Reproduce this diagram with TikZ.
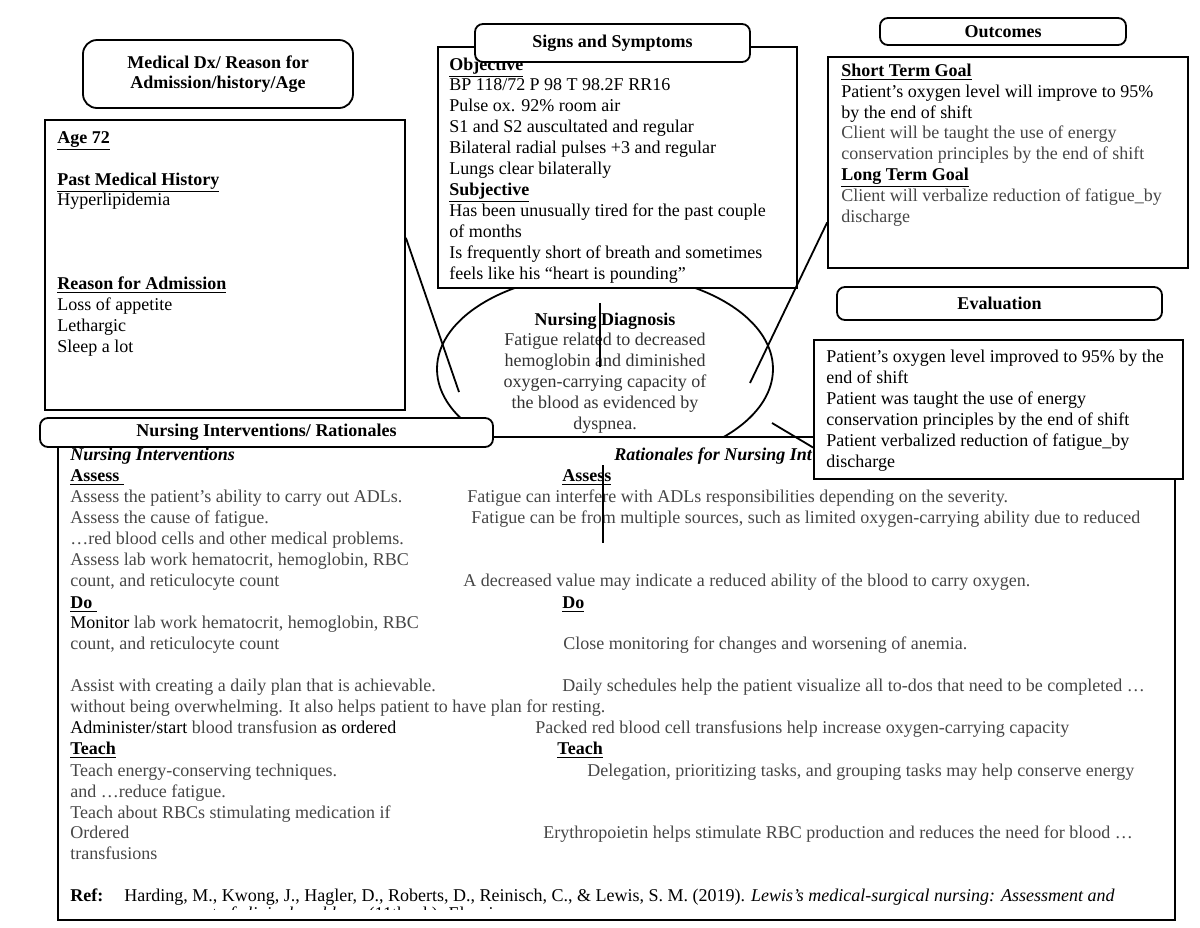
\documentclass[tikz,border=0pt]{standalone}
\usepackage{fontspec}
\setmainfont{Liberation Serif}
\usetikzlibrary{calc,shapes.geometric}
\begin{document}
\begin{tikzpicture}[x=0.5pt,y=-0.5pt,
  box/.style={draw,line width=0.9pt,fill=white,inner sep=0pt,rectangle},
  hdr/.style={draw,line width=0.9pt,fill=white,inner sep=0pt,rounded corners=4pt,font=\fontsize{9}{10}\selectfont\bfseries,align=center},
  tx/.style={anchor=base west,inner sep=0pt,font=\fontsize{9}{10.5}\selectfont},
  txb/.style={tx,font=\fontsize{9}{10.5}\selectfont\bfseries},
  txg/.style={tx,text=black!72},
  tc/.style={anchor=base,inner sep=0pt,font=\fontsize{9}{10.5}\selectfont,text=black!80},
  tcb/.style={tc,text=black,font=\fontsize{9}{10.5}\selectfont\bfseries},
  link/.style={line width=0.9pt}]
\fill[white] (0,0) rectangle (1200,927);
\useasboundingbox (0,0) rectangle (1200,927);

% Nursing diagnosis ellipse
\node[ellipse,draw,line width=0.9pt,fill=white,inner sep=0pt,minimum width=168pt,minimum height=96pt] (dx) at (605,369) {};
\node[tcb] (dx0) at (605,325) {Nursing Diagnosis};
\node[tc] (dx1) at (605,345) {Fatigue related to decreased};
\node[tc] (dx2) at (605,366) {hemoglobin and diminished};
\node[tc] (dx3) at (605,387) {oxygen-carrying capacity of};
\node[tc] (dx4) at (605,408) {the blood as evidenced by};
\node[tc] (dx5) at (605,429) {dyspnea.};

% Interventions box
\node[box,minimum width=558.5pt,minimum height=241.5pt] (int) at (616.5,678.5) {};
\node[txb] (a1) at (70,460) {\textit{Nursing Interventions}};
\node[txb] (a2) at (70,481) {\underline{Assess\ }};
\node[txg] (a3) at (70,502) {Assess the patient’s ability to carry out ADLs.};
\node[txg] (a4) at (70,523) {Assess the cause of fatigue.};
\node[txg] (a5) at (70,544) {…red blood cells and other medical problems.};
\node[txg] (a6) at (70,565) {Assess lab work hematocrit, hemoglobin, RBC};
\node[txg] (a7) at (70,586) {count, and reticulocyte count};
\node[txb] (a8) at (70,608) {\underline{Do\ }};
\node[txg] (a9) at (70,628) {\textcolor{black}{Monitor} lab work hematocrit, hemoglobin, RBC};
\node[txg] (a10) at (70,649) {count, and reticulocyte count};
\node[txg] (a11) at (70,691) {Assist with creating a daily plan that is achievable.};
\node[txg] (a12) at (70,712) {without being overwhelming. It also helps patient to have plan for resting.};
\node[txg] (a13) at (70,733) {\textcolor{black}{Administer/start} blood transfusion \textcolor{black}{as ordered}};
\node[txb] (a14) at (70,754) {\underline{Teach}};
\node[txg] (a15) at (70,776) {Teach energy-conserving techniques.};
\node[txg] (a16) at (70,797) {and …reduce fatigue.};
\node[txg] (a17) at (70,818) {Teach about RBCs stimulating medication if};
\node[txg] (a18) at (70,838) {Ordered};
\node[txg] (a19) at (70,859) {transfusions};

\begin{scope}
\clip (560,440) rectangle (812,470);
\node[txb] (b1) at (614,460) {\textit{Rationales for Nursing Int}};
\end{scope}
\node[txb] (b2) at (562,481) {\underline{Assess}};
\node[txg] (b3) at (467,502) {Fatigue can interfere with ADLs responsibilities depending on the severity.};
\node[txg] (b4) at (471,523) {Fatigue can be from multiple sources, such as limited oxygen-carrying ability due to reduced};
\node[txg] (b5) at (463,586) {A decreased value may indicate a reduced ability of the blood to carry oxygen.};
\node[txb] (b6) at (562,608) {\underline{Do}};
\node[txg] (b7) at (563,649) {Close monitoring for changes and worsening of anemia.};
\node[txg] (b8) at (562,691) {Daily schedules help the patient visualize all to-dos that need to be completed …};
\node[txg] (b9) at (535,733) {Packed red blood cell transfusions help increase oxygen-carrying capacity};
\node[txb] (b10) at (557,754) {\underline{Teach}};
\node[txg] (b11) at (587,776) {Delegation, prioritizing tasks, and grouping tasks may help conserve energy};
\node[txg] (b12) at (543,838) {Erythropoietin helps stimulate RBC production and reduces the need for blood …};

\node[txb] (ref0) at (70,901) {Ref:};
\node[tx] (ref1) at (124,901) {Harding, M., Kwong, J., Hagler, D., Roberts, D., Reinisch, C., \& Lewis, S. M. (2019). \textit{Lewis's medical-surgical nursing: Assessment and}};
\begin{scope}
\clip (58,905) rectangle (1175,909);
\node[tx] (ref2) at (124,919) {\textit{management of clinical problems} (11th ed.). Elsevier.};
\end{scope}

% Left box
\node[box,minimum width=180pt,minimum height=145pt] (leftbox) at (225,265) {};
\node[txb] (l1) at (57,143) {\underline{Age 72}};
\node[txb] (l2) at (57,185) {\underline{Past Medical History}};
\node[tx] (l3) at (57,205) {Hyperlipidemia};
\node[txb] (l4) at (57,289) {\underline{Reason for Admission}};
\node[tx] (l5) at (57,310) {Loss of appetite};
\node[tx] (l6) at (57,331) {Lethargic};
\node[tx] (l7) at (57,352) {Sleep a lot};

% Signs and symptoms box
\node[box,minimum width=179.5pt,minimum height=120.5pt] (signs) at (617.5,167.5) {};
\node[txb] (s1) at (449,70) {\underline{Objective}};
\node[tx] (s2) at (449,90) {BP 118/72 P 98 T 98.2F RR16};
\node[tx] (s3) at (449,111) {Pulse ox. 92\% room air};
\node[tx] (s4) at (449,132) {S1 and S2 auscultated and regular};
\node[tx] (s5) at (449,153) {Bilateral radial pulses +3 and regular};
\node[tx] (s6) at (449,174) {Lungs clear bilaterally};
\node[txb] (s7) at (449,195) {\underline{Subjective}};
\node[tx] (s8) at (449,216) {Has been unusually tired for the past couple};
\node[tx] (s9) at (449,237) {of months};
\node[tx] (s10) at (449,258) {Is frequently short of breath and sometimes};
\node[tx] (s11) at (449,279) {feels like his “heart is pounding”};

% Outcomes box
\node[box,minimum width=180pt,minimum height=105.5pt] (outbox) at (1008,162.5) {};
\node[txb] (o1) at (841,76) {\underline{Short Term Goal}};
\node[tx] (o2) at (841,97) {Patient’s oxygen level will improve to 95\%};
\node[tx] (o3) at (841,118) {by the end of shift};
\node[txg] (o4) at (841,138) {Client will be taught the use of energy};
\node[txg] (o5) at (841,159) {conservation principles by the end of shift};
\node[txb] (o6) at (841,180) {\underline{Long Term Goal}};
\node[txg] (o7) at (841,201) {Client will verbalize reduction of fatigue\_by};
\node[txg] (o8) at (841,222) {discharge};

% Evaluation box
\node[box,minimum width=184.5pt,minimum height=69.5pt] (evalbox) at (998.5,409.5) {};
\node[tx] (v1) at (826,362) {Patient’s oxygen level improved to 95\% by the};
\node[tx] (v2) at (826,383) {end of shift};
\node[tx] (v3) at (826,404) {Patient was taught the use of energy};
\node[tx] (v4) at (826,425) {conservation principles by the end of shift};
\node[tx] (v5) at (826,446) {Patient verbalized reduction of fatigue\_by};
\node[tx] (v6) at (826,467) {discharge};

% Headers
\node[hdr,rounded corners=7pt,minimum width=135pt,minimum height=34pt] (medhdr) at (218,74) {Medical Dx/ Reason for\\Admission/history/Age};
\node[hdr,minimum width=137.5pt,minimum height=19pt] (signshdr) at (612.5,43) {Signs and Symptoms};
\node[hdr,minimum width=123pt,minimum height=13.5pt] (outhdr) at (1003,31.5) {Outcomes};
\node[hdr,minimum width=162.5pt,minimum height=16.5pt] (evalhdr) at (999.5,303.5) {Evaluation};
\node[hdr,minimum width=226.5pt,minimum height=14.5pt] (inthdr) at (266.5,432.5) {Nursing Interventions/ Rationales};

% Connectors
\coordinate (e1) at (459,392);
\draw[link] ($(leftbox.north east)!0.407!(leftbox.south east)$) -- (e1);
\coordinate (e2) at (750,383);
\draw[link] ($(outbox.north west)!0.782!(outbox.south west)$) -- (e2);
\coordinate (e3) at (772,423);
\draw[link] (e3) -- ($(evalbox.north west)!0.77!(evalbox.south west)$);
\coordinate (p1) at (600,303);
\coordinate (p2) at (600,367);
\draw[link] (p1) -- (p2);
\coordinate (q1) at (603,465);
\coordinate (q2) at (603,543);
\draw[link] (q1) -- (q2);
\end{tikzpicture}
\end{document}
